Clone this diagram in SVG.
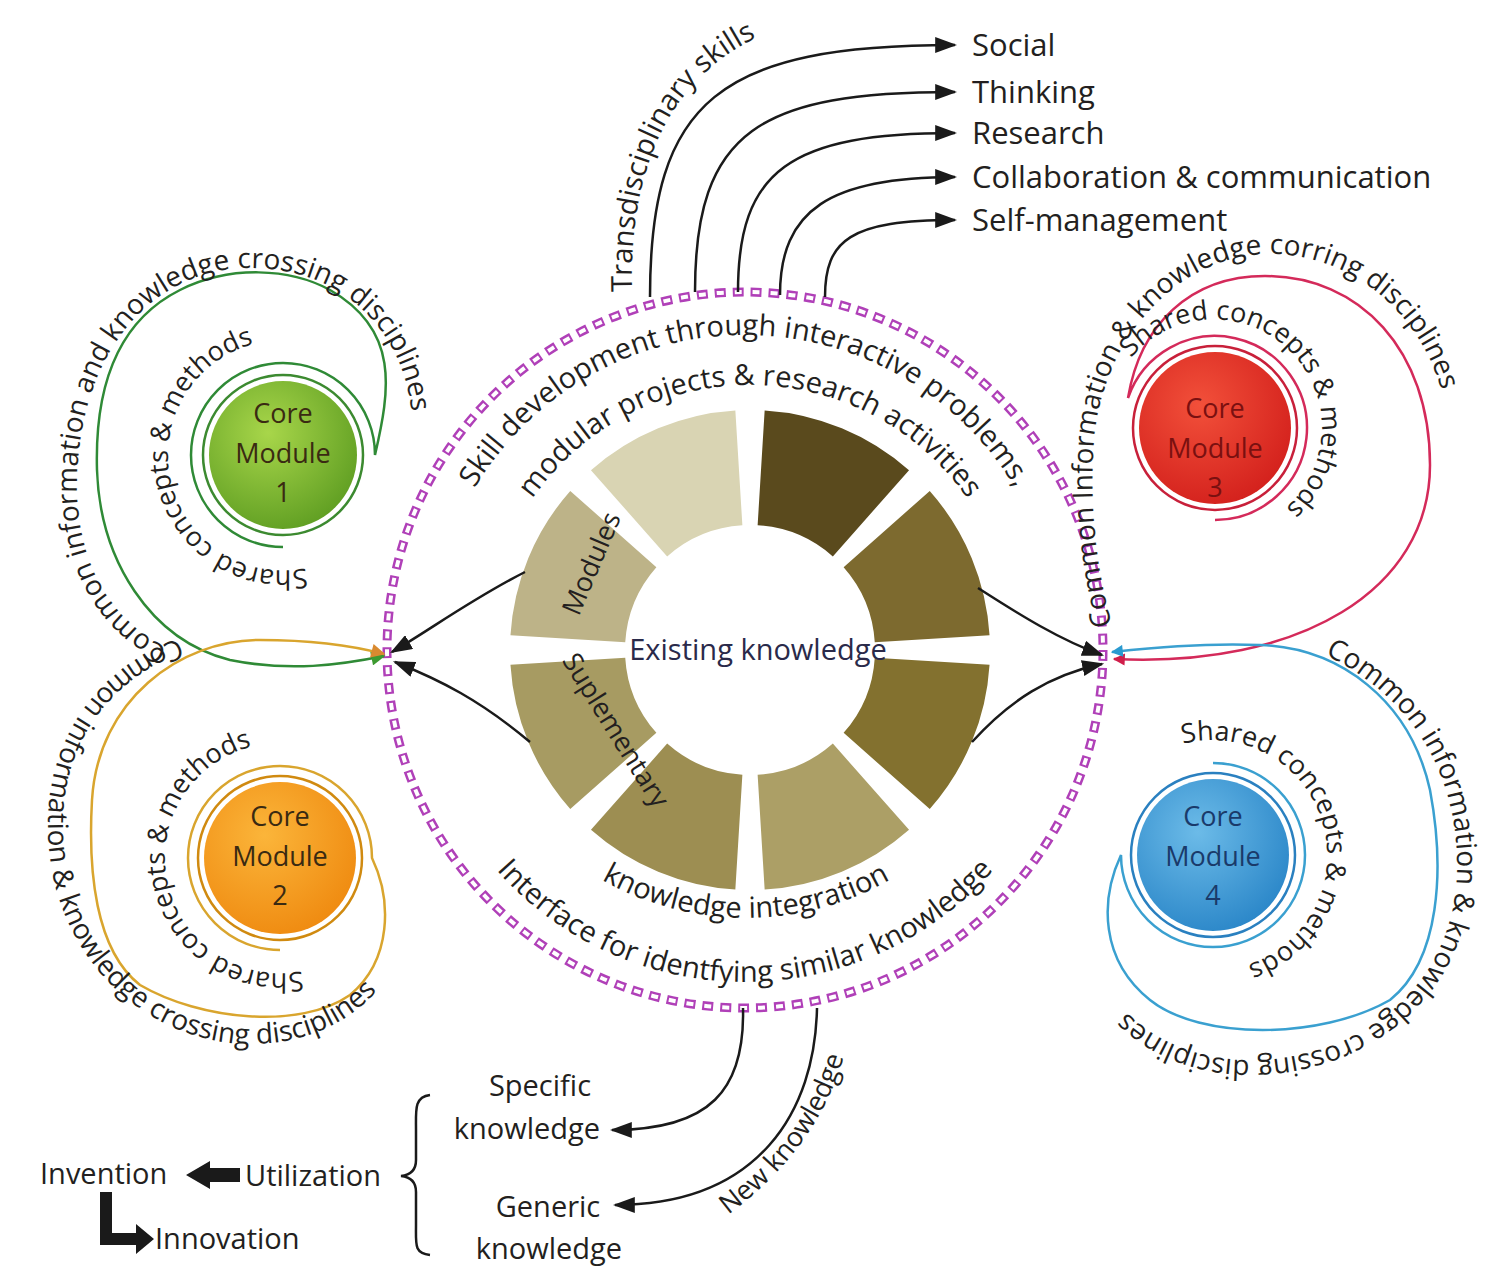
<svg xmlns="http://www.w3.org/2000/svg" width="1498" height="1286" viewBox="0 0 1498 1286">
<style>
text{font-family:"Open Sans","Liberation Sans",sans-serif;fill:#231f20}
.t{font-size:29px}
.m{font-size:27px}
.o{font-size:28px}
.lab{font-size:31px}
.core{font-size:27px;text-anchor:middle;fill:#3a2a12}
.blk{fill:none;stroke:#1a1a1a;stroke-width:2.5}
</style>
<defs>
<marker id="ahb" viewBox="0 0 10 10" refX="9" refY="5" markerWidth="22" markerHeight="16" orient="auto" markerUnits="userSpaceOnUse" preserveAspectRatio="none"><path d="M0,0 L10,5 L0,10 Z" fill="#1a1a1a"/></marker>
<marker id="mg" viewBox="0 0 10 10" refX="9" refY="5" markerWidth="16" markerHeight="14" orient="auto" markerUnits="userSpaceOnUse"><path d="M0,0 L10,5 L0,10 Z" fill="#3c9a30"/></marker>
<marker id="mo" viewBox="0 0 10 10" refX="9" refY="5" markerWidth="16" markerHeight="14" orient="auto" markerUnits="userSpaceOnUse"><path d="M0,0 L10,5 L0,10 Z" fill="#d98a30"/></marker>
<marker id="mr" viewBox="0 0 10 10" refX="9" refY="5" markerWidth="14" markerHeight="12" orient="auto" markerUnits="userSpaceOnUse"><path d="M0,0 L10,5 L0,10 Z" fill="#d01e4a"/></marker>
<marker id="mb" viewBox="0 0 10 10" refX="9" refY="5" markerWidth="14" markerHeight="12" orient="auto" markerUnits="userSpaceOnUse"><path d="M0,0 L10,5 L0,10 Z" fill="#2a9ad0"/></marker>
<radialGradient id="gG" cx="0.4" cy="0.35" r="0.7"><stop offset="0" stop-color="#a8d64a"/><stop offset="1" stop-color="#5f9e22"/></radialGradient>
<radialGradient id="gO" cx="0.4" cy="0.35" r="0.7"><stop offset="0" stop-color="#fbb53a"/><stop offset="1" stop-color="#ef8a10"/></radialGradient>
<radialGradient id="gR" cx="0.4" cy="0.35" r="0.7"><stop offset="0" stop-color="#f2503a"/><stop offset="1" stop-color="#d3201c"/></radialGradient>
<radialGradient id="gB" cx="0.4" cy="0.35" r="0.7"><stop offset="0" stop-color="#6cbbe8"/><stop offset="1" stop-color="#2a86c8"/></radialGradient>
<path id="sec" d="M239.55,-14.65 A240,240 0 0 0 179.75,-159.03 L93.62,-82.83 A125,125 0 0 1 124.77,-7.63 Z"/>
<path id="pTop1" d="M430,650 A315,315 0 0 1 1060,650"/>
<path id="pTop2" d="M485,650 A265,265 0 0 1 1015,650"/>
<path id="pBot1" d="M413,650 A332,332 0 0 0 1077,650"/>
<path id="pBot2" d="M455,650 A292,292 0 0 0 1037,650"/>
<path id="pTrans" d="M632,292 C628,140 690,45 815,18"/>
<path id="pNew" d="M728,1215 C795,1165 838,1105 852,1020"/>
<path id="o1" d="M168,648 C90,610 72,530 78,460 C88,340 160,268 250,268 C350,268 408,340 412,420 C414,470 398,510 368,545"/>
<path id="i1" d="M306,568 A115,115 0 1 1 391,416"/>
<path id="o2" d="M178,638 C95,670 46,740 48,830 C50,960 150,1044 250,1044 C350,1044 410,975 413,900 C414,850 406,820 396,800"/>
<path id="i2" d="M302,971 A115,115 0 1 1 388,819"/>
<path id="o3" d="M1112,625 C1094,560 1090,500 1094,440 C1104,330 1185,254 1270,254 C1368,254 1448,340 1448,440 C1448,520 1420,585 1385,640"/>
<path id="i3" d="M1131,358 A108,108 0 1 1 1196,534"/>
<path id="o4" d="M1325,655 C1400,690 1455,760 1457,860 C1460,985 1360,1060 1250,1060 C1150,1060 1084,990 1084,910 C1084,870 1092,840 1102,812"/>
<path id="i4" d="M1183,744 A115,115 0 1 1 1155,955"/>
</defs>

<g id="wheel">
<use href="#sec" transform="translate(750,650)" fill="#7d6a2f"/>
<use href="#sec" transform="translate(750,650) rotate(-45)" fill="#5a4a1d"/>
<use href="#sec" transform="translate(750,650) rotate(-90)" fill="#d9d4b3"/>
<use href="#sec" transform="translate(750,650) rotate(-135)" fill="#bdb388"/>
<use href="#sec" transform="translate(750,650) rotate(-180)" fill="#a79b62"/>
<use href="#sec" transform="translate(750,650) rotate(-225)" fill="#9d8e52"/>
<use href="#sec" transform="translate(750,650) rotate(-270)" fill="#ac9f66"/>
<use href="#sec" transform="translate(750,650) rotate(-315)" fill="#83712f"/>
<text class="t" x="758" y="660" text-anchor="middle" style="fill:#2a2a4a">Existing knowledge</text>
<text class="m" transform="translate(600,567) rotate(-67)" text-anchor="middle">Modules</text>
<text class="m" transform="translate(608,735) rotate(58)" text-anchor="middle">Suplementary</text>
</g>

<g id="ring">
<circle cx="745" cy="650" r="358" fill="none" stroke="#b040b8" stroke-width="9" stroke-dasharray="11 7"/>
<circle cx="745" cy="650" r="358" fill="none" stroke="#fff" stroke-width="4" stroke-dasharray="7 11" stroke-dashoffset="-2"/>
<text class="t"><textPath href="#pTop1" startOffset="50%" text-anchor="middle">Skill development through interactive problems,</textPath></text>
<text class="t"><textPath href="#pTop2" startOffset="50%" text-anchor="middle">modular projects &amp; research activities</textPath></text>
<text class="t"><textPath href="#pBot1" startOffset="50%" text-anchor="middle">Interface for identfying similar knowledge</textPath></text>
<text class="t"><textPath href="#pBot2" startOffset="50%" text-anchor="middle">knowledge integration</textPath></text>
</g>

<g id="skills">
<text class="t"><textPath href="#pTrans">Transdisciplinary skills</textPath></text>
<text class="lab" x="972" y="56">Social</text>
<text class="lab" x="972" y="103">Thinking</text>
<text class="lab" x="972" y="144">Research</text>
<text class="lab" x="972" y="188">Collaboration &amp; communication</text>
<text class="lab" x="972" y="231">Self-management</text>
</g>

<g id="module1">
<path d="M283,547 A92,92 0 1 1 375,455 C390,390 400,330 330,290 C290,268 230,265 180,290 C110,325 95,400 97,470 C100,560 150,640 230,660 C290,672 340,665 384,656" fill="none" stroke="#2f8a36" stroke-width="2.5" marker-end="url(#mg)"/>
<circle cx="283" cy="455" r="80" fill="#fff" stroke="#3c8a30" stroke-width="2.5"/>
<circle cx="283" cy="455" r="74" fill="url(#gG)"/>
<text class="core" x="283" y="423">Core</text>
<text class="core" x="283" y="463">Module</text>
<text class="core" x="283" y="502">1</text>
<text class="m"><textPath href="#i1">Shared concepts &amp; methods</textPath></text>
<text class="o"><textPath href="#o1">Common information and knowledge crossing disciplines</textPath></text>
</g>

<g id="module2">
<path d="M280,950 A92,92 0 1 1 372,858 C392,900 392,960 350,995 C300,1030 200,1020 140,985 C95,950 88,870 92,800 C98,700 180,640 260,640 C310,640 350,645 384,654" fill="none" stroke="#d9a52e" stroke-width="2.5" marker-end="url(#mo)"/>
<circle cx="280" cy="858" r="82" fill="#fff" stroke="#d08a10" stroke-width="2.5"/>
<circle cx="280" cy="858" r="76" fill="url(#gO)"/>
<text class="core" x="280" y="826">Core</text>
<text class="core" x="280" y="866">Module</text>
<text class="core" x="280" y="905">2</text>
<text class="m"><textPath href="#i2">Shared concepts &amp; methods</textPath></text>
<text class="o"><textPath href="#o2">Common information &amp; knowledge crossing disciplines</textPath></text>
</g>

<g id="module3">
<path d="M1215,520 A92,92 0 1 0 1128,398 C1140,325 1190,276 1265,276 C1360,276 1430,350 1430,465 C1430,590 1300,668 1114,659" fill="none" stroke="#d42a5a" stroke-width="2.5" marker-end="url(#mr)"/>
<circle cx="1215" cy="428" r="82" fill="#fff" stroke="#c8203a" stroke-width="2.5"/>
<circle cx="1215" cy="428" r="76" fill="url(#gR)"/>
<text class="core" x="1215" y="418" style="fill:#7a1010">Core</text>
<text class="core" x="1215" y="458" style="fill:#7a1010">Module</text>
<text class="core" x="1215" y="497" style="fill:#7a1010">3</text>
<text class="m"><textPath href="#i3">Shared concepts &amp; methods</textPath></text>
<text class="o"><textPath href="#o3">Common Information &amp; knowledge corring disciplines</textPath></text>
</g>

<g id="module4">
<path d="M1213,763 A92,92 0 1 1 1121,855 C1100,900 1100,960 1150,1000 C1200,1040 1320,1040 1390,1000 C1440,960 1445,870 1430,790 C1410,700 1340,648 1260,645 C1200,643 1150,648 1112,652" fill="none" stroke="#3aa0d0" stroke-width="2.5" marker-end="url(#mb)"/>
<circle cx="1213" cy="855" r="82" fill="#fff" stroke="#2a80c0" stroke-width="2.5"/>
<circle cx="1213" cy="855" r="76" fill="url(#gB)"/>
<text class="core" x="1213" y="826" style="fill:#1a3a6a">Core</text>
<text class="core" x="1213" y="866" style="fill:#1a3a6a">Module</text>
<text class="core" x="1213" y="905" style="fill:#1a3a6a">4</text>
<text class="m"><textPath href="#i4">Shared concepts &amp; methods</textPath></text>
<text class="o"><textPath href="#o4">Common information &amp; knowledge crossing disciplines</textPath></text>
</g>

<g id="bottom">
<text class="t" x="540" y="1096" text-anchor="middle">Specific</text>
<text class="t" x="527" y="1139" text-anchor="middle">knowledge</text>
<text class="t" x="548" y="1217" text-anchor="middle">Generic</text>
<text class="t" x="549" y="1259" text-anchor="middle">knowledge</text>
<text class="m"><textPath href="#pNew">New knowledge</textPath></text>
<text class="t" x="40" y="1184">Invention</text>
<text class="t" x="245" y="1186">Utilization</text>
<text class="t" x="155" y="1249">Innovation</text>
<path d="M240,1168 L210,1168 L210,1161 L186,1175 L210,1189 L210,1182 L240,1182 Z" fill="#1a1a1a"/>
<path d="M100,1192 L112,1192 L112,1233 L136,1233 L136,1224 L154,1239 L136,1254 L136,1245 L100,1245 Z" fill="#1a1a1a"/>
<path d="M430,1095 C414,1097 416,1110 416,1130 L416,1160 C416,1170 411,1175 401,1176 C411,1177 416,1182 416,1192 L416,1225 C416,1245 414,1253 430,1255" fill="none" stroke="#1a1a1a" stroke-width="2.5"/>
</g>

<g id="connectors">
<path class="blk" d="M650,297 C650,100 720,45 955,45" marker-end="url(#ahb)"/>
<path class="blk" d="M695,292 C695,130 760,92 955,92" marker-end="url(#ahb)"/>
<path class="blk" d="M738,292 C738,170 790,133 955,133" marker-end="url(#ahb)"/>
<path class="blk" d="M780,295 C780,210 830,177 955,177" marker-end="url(#ahb)"/>
<path class="blk" d="M825,297 C825,240 850,220 955,220" marker-end="url(#ahb)"/>
<path class="blk" d="M525,572 C470,600 430,630 392,652" marker-end="url(#ahb)"/>
<path class="blk" d="M530,742 C480,700 440,680 395,662" marker-end="url(#ahb)"/>
<path class="blk" d="M978,588 C1020,615 1060,640 1102,655" marker-end="url(#ahb)"/>
<path class="blk" d="M972,742 C1010,700 1050,675 1102,664" marker-end="url(#ahb)"/>
<path class="blk" d="M743,1008 C745,1090 710,1130 612,1130" marker-end="url(#ahb)"/>
<path class="blk" d="M817,1008 C815,1110 760,1205 615,1205" marker-end="url(#ahb)"/>
</g>
</svg>
